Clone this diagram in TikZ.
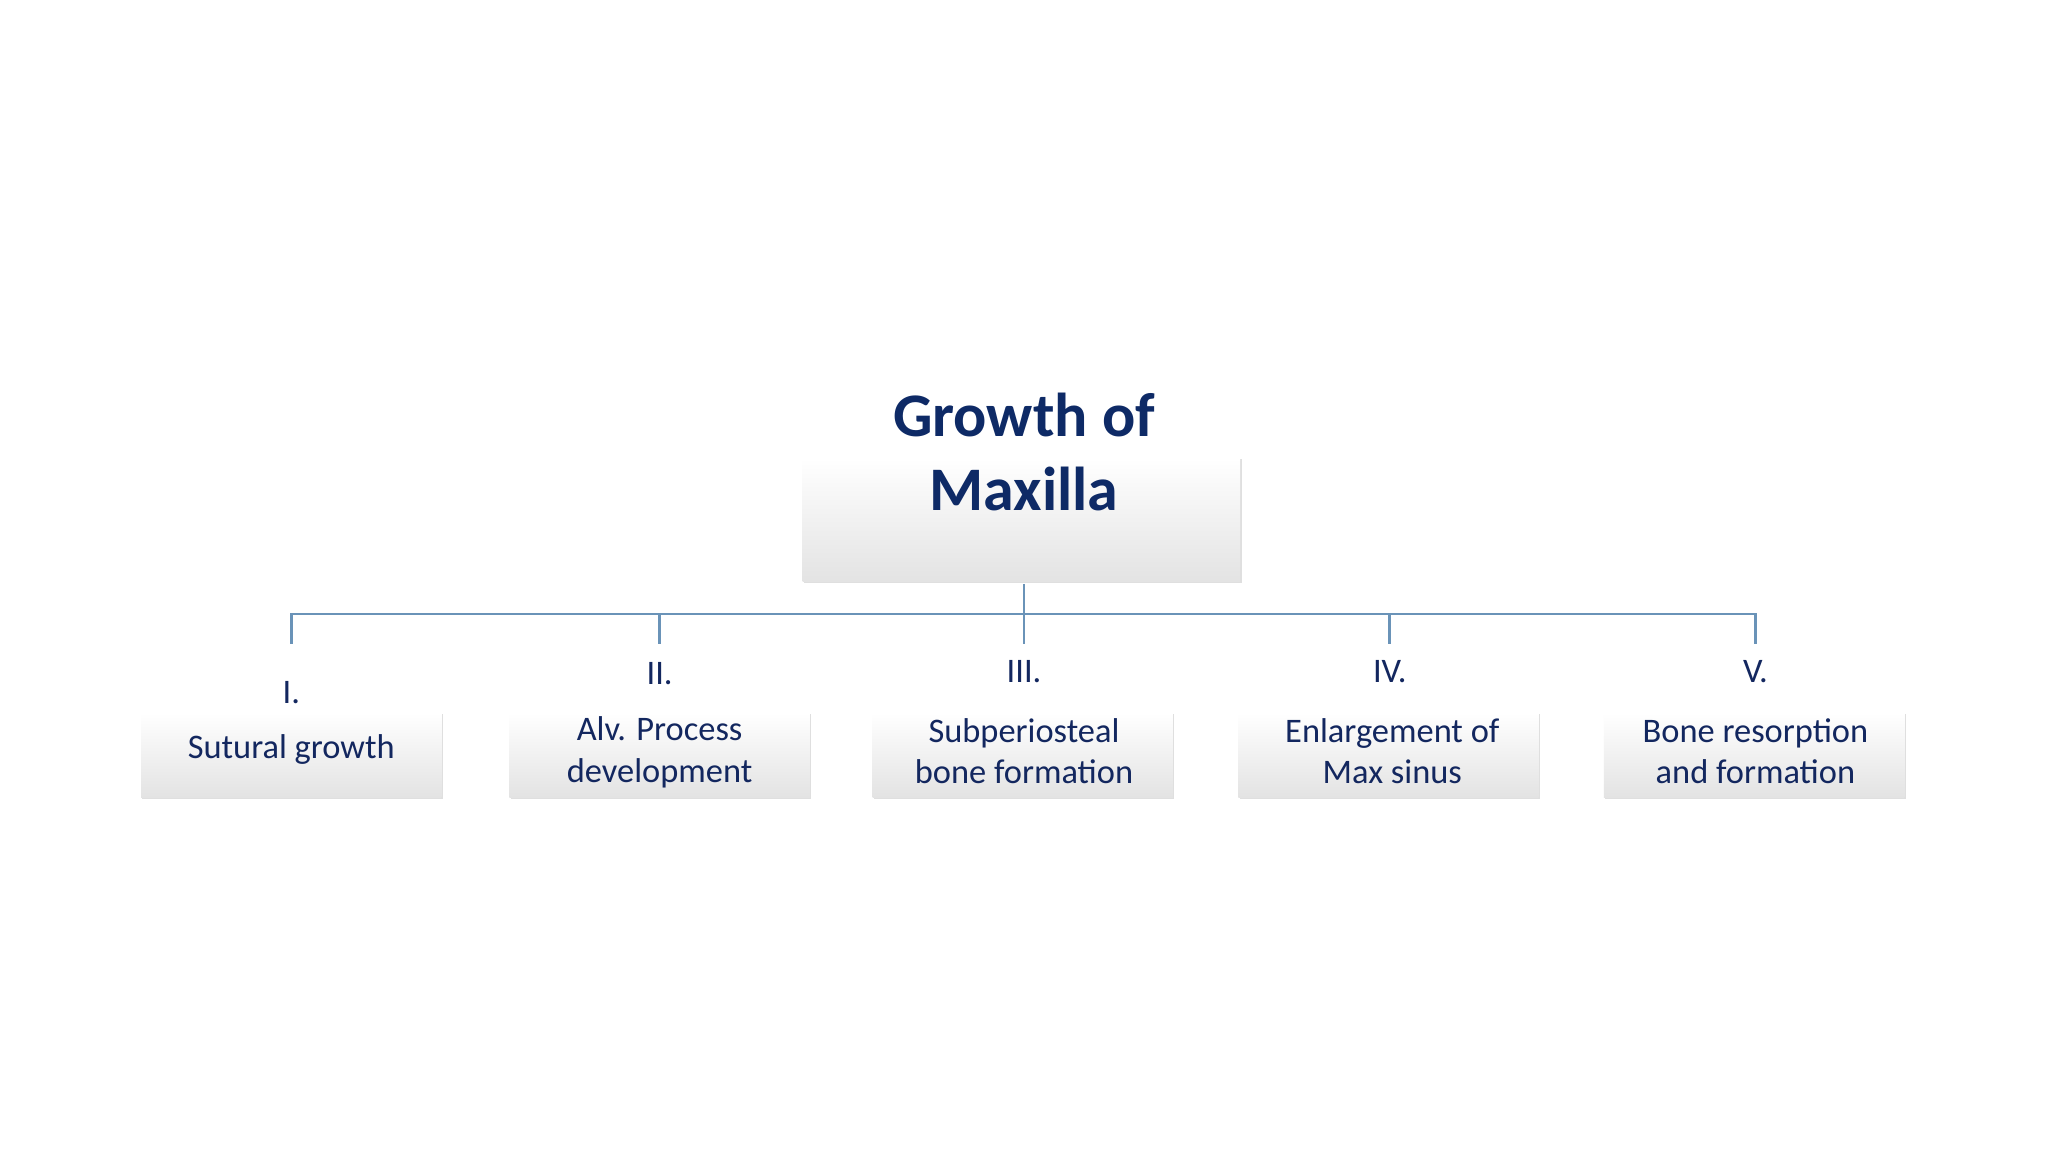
\documentclass[tikz,border=0pt]{standalone}
\usepackage{fontspec}
\setmainfont{Carlito}
\usetikzlibrary{shadows}
\definecolor{navy}{HTML}{13275F}
\definecolor{titleblue}{HTML}{0E2A66}
\definecolor{linec}{HTML}{6A93B8}
\tikzset{
  box/.style={top color=white, bottom color=black!11, draw=none, minimum height=#1, inner sep=0pt,
    drop shadow={shadow xshift=0.6pt, shadow yshift=-0.6pt, opacity=0.25}},
  lbl/.style={text=navy, font=\fontsize{15}{18}\selectfont, align=center},
  conn/.style={draw=linec, line width=1.2pt}
}
\begin{document}
\begin{tikzpicture}[x=0.02cm,y=-0.02cm]
\fill[white] (0,0) rectangle (1568,882);
\useasboundingbox (0,0) rectangle (1568,882);
% top box
\node[box=1.9cm, minimum width=6.7cm] (top) at (782,398) {};
\node[text=titleblue, font=\fontsize{27}{32}\selectfont\bfseries, align=center] (title) at (784,346) {Growth of\\Maxilla};
% children boxes
\foreach \n/\x in {a/223,b/505,c/783,d/1063,e/1343}{
  \node[box=1.3cm, minimum width=4.6cm] (\n) at (\x,578) {};
}
% connectors
\coordinate (hub) at (784,470);
\draw[conn] (784,447) -- (hub);
\draw[conn] (223,493) -- (223,470) -- (1344,470) -- (1344,493);
\foreach \x in {505,784,1064}{\draw[conn] (\x,470) -- (\x,493);}
% labels
\node[lbl] (na) at (223,530) {I.};
\node[lbl] at (223,574) {Sutural growth};
\node[lbl] (nb) at (505,516) {II.};
\node[lbl] at (505,576) {Alv. Process\\development};
\node[lbl] (nc) at (784,514) {III.};
\node[lbl] at (784,575) {Subperiosteal\\bone formation};
\node[lbl] (nd) at (1064,514) {IV.};
\node[lbl] at (1066,575) {Enlargement of\\Max sinus};
\node[lbl] (ne) at (1344,514) {V.};
\node[lbl] at (1344,575) {Bone resorption\\and formation};
\end{tikzpicture}
\end{document}
